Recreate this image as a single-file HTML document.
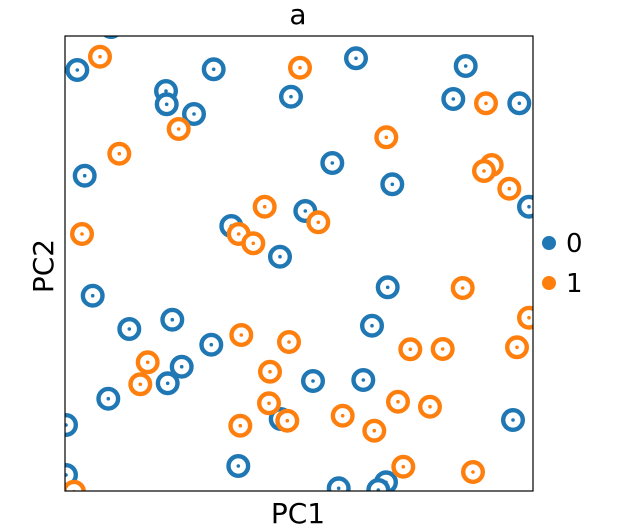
<!DOCTYPE html>
<html><head><meta charset="utf-8"><style>
html,body{margin:0;padding:0;background:#fff;}
svg{display:block;font-family:"DejaVu Sans","Liberation Sans",sans-serif;}
</style></head><body>
<svg id="chart" width="621" height="532">
  <defs><clipPath id="clip"><rect x="65" y="36" width="468" height="455"/></clipPath></defs>
  <text x="298" y="24" font-size="28" text-anchor="middle">a</text>
  <g id="points" clip-path="url(#clip)"></g>
  <rect x="65" y="36" width="468" height="455" fill="none" stroke="#000" stroke-width="1.2"/>
  <text x="298" y="523" font-size="28" text-anchor="middle">PC1</text>
  <text x="0" y="0" font-size="28" text-anchor="middle" transform="translate(53,266) rotate(-90)">PC2</text>
  <g>
    <g><circle cx="549" cy="243" r="7" fill="#1f77b4"/><text x="566" y="252" font-size="26">0</text></g>
    <g><circle cx="549" cy="283" r="7" fill="#ff7f0e"/><text x="566" y="292" font-size="26">1</text></g>
  </g>
</svg>
<script>
const blueX=[12.3,101,101.7,148.7,129,226,291,400.7,388.3,454.3,19.7,267.3,327.3,464,166.3,240.3,215,46,27.7,322.7,64.3,107.3,307,146.3,116.7,102.7,43.3,248,298.3,1,215.7,448,173.3,1,273.7,321,313.3];
const blueY=[34,55,68.3,33.3,78,60.7,22.3,30,63,67.3,139.7,127,148.3,170.7,190,175,220.7,-9,259.7,251.3,293,283.7,289.7,308.7,330.7,347.3,362.7,345,344,389,383,384,430,439,452.3,446.3,454];
const orangeX=[35,235,113.7,54.3,321.3,421,426.7,419,444.3,17,199.7,173.7,188.3,253.3,397.7,464,176.3,224,345.3,377.7,452,82.7,75.3,205,204,222.3,175.3,277.7,333,365,309.3,338.3,408,9];
const orangeY=[20.7,31.7,93,117.7,101.3,67.3,129,135,152.7,198,170.7,198,207.3,186.3,252,281.7,299,306,313.3,313,311.3,326.3,348.3,335.7,367.3,384.7,389.7,379.7,365.7,370.7,394.7,430.7,436,455.7];
const X0=65,Y0=36,XS=468,YS=455,XD=468,YD=455;
function sx(v){return X0+v/XD*XS;}
function sy(v){return Y0+v/YD*YS;}
const g=document.getElementById('points');
const NS='http://www.w3.org/2000/svg';
function draw(xs,ys,color,cls){
  for(let i=0;i<xs.length;i++){
    const grp=document.createElementNS(NS,'g');
    
    
    const c=document.createElementNS(NS,'circle');
    c.setAttribute('cx',sx(xs[i]));c.setAttribute('cy',sy(ys[i]));
    c.setAttribute('r',9.8);c.setAttribute('fill','#fff');
    c.setAttribute('stroke',color);c.setAttribute('stroke-width',4.4);
    const d=document.createElementNS(NS,'circle');
    d.setAttribute('cx',sx(xs[i]));d.setAttribute('cy',sy(ys[i]));
    d.setAttribute('r',1.8);d.setAttribute('fill',color);
    grp.appendChild(c);grp.appendChild(d);g.appendChild(grp);
  }
}
draw(blueX,blueY,'#1f77b4','0');
draw(orangeX,orangeY,'#ff7f0e','1');
</script>
</body></html>
